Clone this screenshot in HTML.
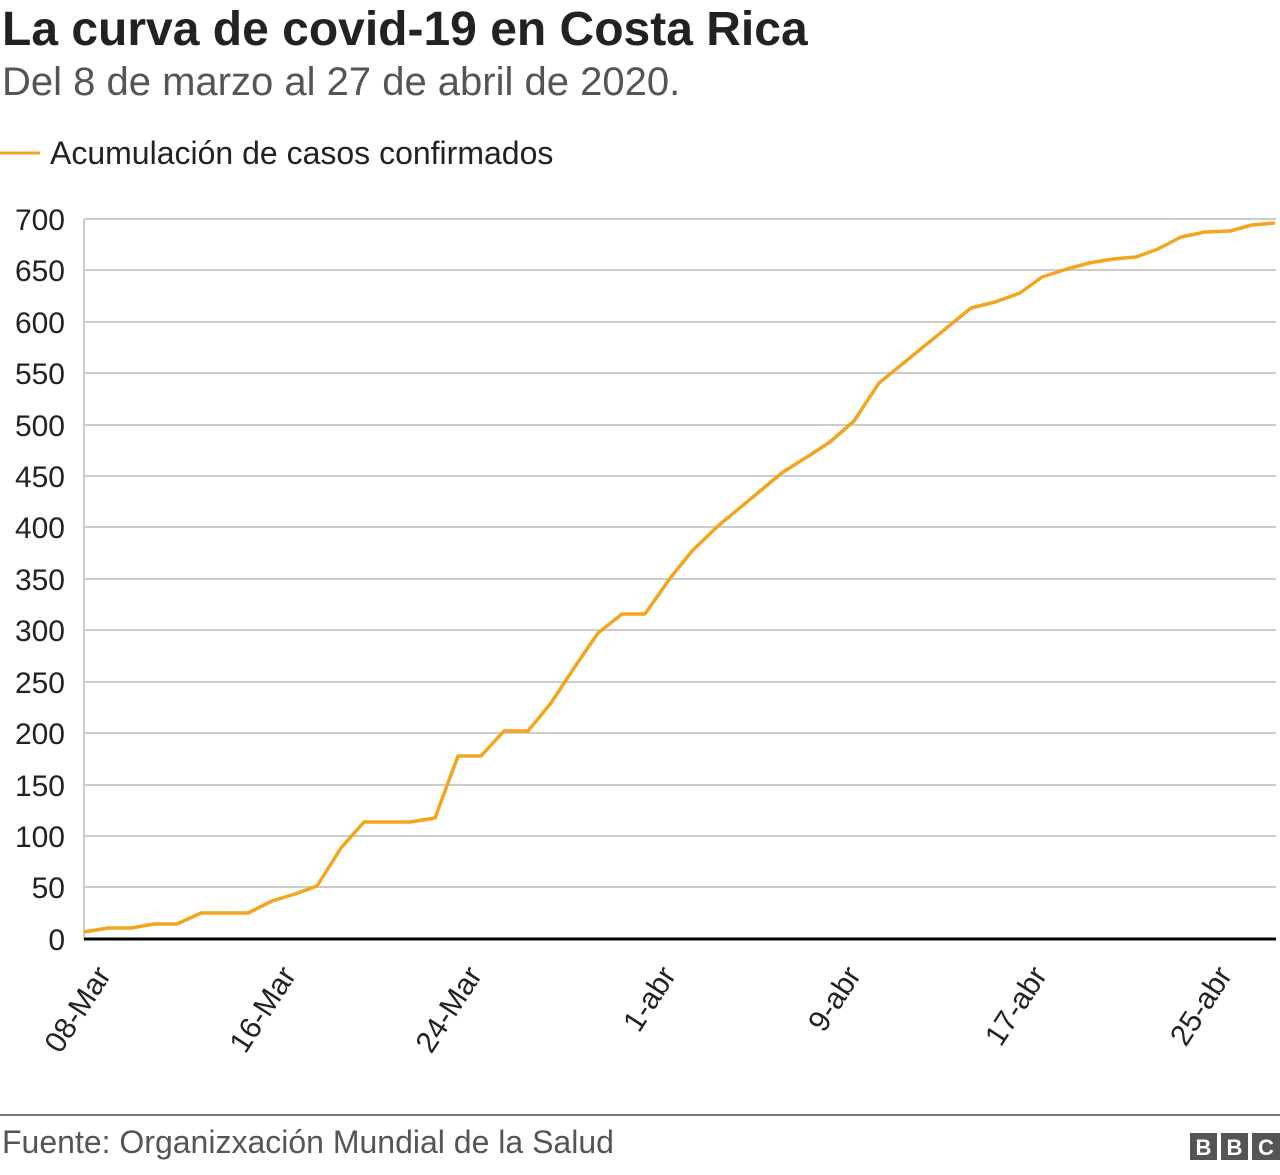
<!DOCTYPE html>
<html><head><meta charset="utf-8"><style>
body{margin:0;background:#fff;}
svg text{font-family:"Liberation Sans",Arial,sans-serif;}
</style></head><body>
<svg width="1280" height="1170" xmlns="http://www.w3.org/2000/svg">
<text x="2" y="45" font-size="48" font-weight="bold" fill="#222">La curva de covid-19 en Costa Rica</text>
<text x="2" y="95" font-size="40" fill="#555">Del 8 de marzo al 27 de abril de 2020.</text>
<line x1="0" y1="153" x2="40" y2="153" stroke="#f2a51e" stroke-width="3"/>
<text x="50" y="164" font-size="32" fill="#222">Acumulación de casos confirmados</text>
<g stroke="#ccc" stroke-width="2">
<line x1="84" y1="219" x2="1276" y2="219"/><line x1="84" y1="270" x2="1276" y2="270"/>
<line x1="84" y1="322" x2="1276" y2="322"/><line x1="84" y1="373" x2="1276" y2="373"/>
<line x1="84" y1="425" x2="1276" y2="425"/><line x1="84" y1="476" x2="1276" y2="476"/>
<line x1="84" y1="527" x2="1276" y2="527"/><line x1="84" y1="579" x2="1276" y2="579"/>
<line x1="84" y1="630" x2="1276" y2="630"/><line x1="84" y1="682" x2="1276" y2="682"/>
<line x1="84" y1="733" x2="1276" y2="733"/><line x1="84" y1="785" x2="1276" y2="785"/>
<line x1="84" y1="836" x2="1276" y2="836"/><line x1="84" y1="887" x2="1276" y2="887"/>
<line x1="84" y1="219" x2="84" y2="939"/>
</g>
<line x1="84" y1="939" x2="1276" y2="939" stroke="#000" stroke-width="3"/>
<g font-size="30" fill="#222" text-anchor="end">
<text x="65" y="230">700</text><text x="65" y="281">650</text><text x="65" y="333">600</text>
<text x="65" y="384">550</text><text x="65" y="436">500</text><text x="65" y="487">450</text>
<text x="65" y="538">400</text><text x="65" y="590">350</text><text x="65" y="641">300</text>
<text x="65" y="693">250</text><text x="65" y="744">200</text><text x="65" y="796">150</text>
<text x="65" y="847">100</text><text x="65" y="898">50</text><text x="65" y="950">0</text>
</g>
<polyline fill="none" stroke="#f2a51e" stroke-width="3.5" stroke-linejoin="round" points="84,932 108,928 131,928 154,924 177,924 201,913 248,913 272,901 295,894 317,886 341,848 364,822 410,822 435,818 458,756 481,756 504,731 528,731 551,703 574,668 598,633 622,614 645,614 671,577 692,551 718,526 783,472 807,457 830,442 854,421 879,383 971,308 995,302 1020,293 1042,277 1067,269 1089,263 1113,259 1136,257 1158,249 1181,237 1205,232 1230,231 1252,225 1275,223"/>
<g font-size="30" fill="#222" text-anchor="end">
<text transform="translate(112,975) rotate(-57)">08-Mar</text>
<text transform="translate(297,975) rotate(-57)">16-Mar</text>
<text transform="translate(483,975) rotate(-57)">24-Mar</text>
<text transform="translate(677,975) rotate(-57)">1-abr</text>
<text transform="translate(862,975) rotate(-57)">9-abr</text>
<text transform="translate(1048,975) rotate(-57)">17-abr</text>
<text transform="translate(1233,975) rotate(-57)">25-abr</text>
</g>
<line x1="0" y1="1115" x2="1280" y2="1115" stroke="#777" stroke-width="2"/>
<text x="2" y="1153" font-size="32" fill="#555">Fuente: Organizxación Mundial de la Salud</text>
<g fill="#555"><rect x="1190" y="1133" width="27" height="27"/><rect x="1221" y="1133" width="27" height="27"/><rect x="1252" y="1133" width="28" height="27"/></g>
<g fill="#fff" font-size="22" font-weight="bold" text-anchor="middle">
<text x="1203.5" y="1155">B</text><text x="1234.5" y="1155">B</text><text x="1266" y="1155">C</text></g>
</svg>
</body></html>
